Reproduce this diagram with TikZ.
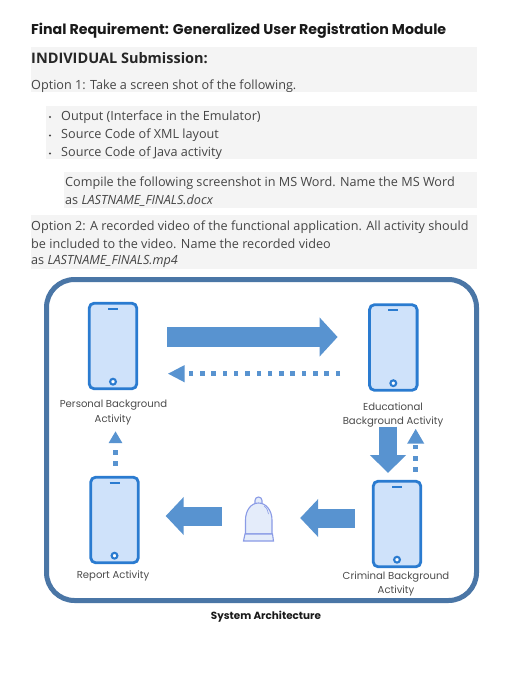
\documentclass[tikz,border=0pt]{standalone}
\usepackage{fontspec}
\setmainfont{Open Sans}
\newfontfamily\gothic{Poppins}
\usetikzlibrary{arrows.meta}
\definecolor{panel}{HTML}{F4F4F4}
\definecolor{bodytext}{HTML}{454545}
\definecolor{framecol}{HTML}{4A76A6}
\definecolor{arrowcol}{HTML}{5893D0}
\definecolor{phoneline}{HTML}{2A7BD0}
\definecolor{phonefill}{HTML}{CFE2FA}
\definecolor{bellline}{HTML}{8A9BE6}
\definecolor{bellfill}{HTML}{E4ECFA}
\tikzset{
  panelbox/.style={fill=panel,draw=none},
  txt/.style={anchor=base west,inner sep=0pt,text=bodytext,font=\fontsize{12.65}{15}\selectfont},
  lab/.style={anchor=base,inner sep=0pt,text=black!70,font=\gothic\fontsize{10.1}{12}\selectfont},
  phone/.style={draw=phoneline,fill=phonefill,line width=2.8pt,rounded corners=5pt,minimum width=47.6pt,minimum height=85.6pt,inner sep=0pt},
  detail/.style={draw=phoneline,line width=2.1pt},
  block/.style={draw=arrowcol,line width=#1},
  dots/.style={draw=arrowcol,line width=4.6pt,dash pattern=on 4.5pt off 6.8pt},
  bellpart/.style={draw=bellline,fill=bellfill,line width=1.1pt},
}
\newcommand{\phonedetails}[1]{%
  \draw[detail] ([xshift=-5pt,yshift=-7pt]#1.north) -- ([xshift=5pt,yshift=-7pt]#1.north);
  \draw[detail,fill=white] ([yshift=8.5pt]#1.south) circle (2.9pt);
}
\begin{document}
\begin{tikzpicture}[x=1pt,y=-1pt]
\useasboundingbox[fill=white] (0,0) rectangle (520,700);
% panels
\fill[panelbox] (31,47) rectangle (477,92.5);
\fill[panelbox] (46,106) rectangle (477,159);
\fill[panelbox] (64,172) rectangle (477,208);
\fill[panelbox] (31,215) rectangle (477,269);
% text
\node[txt,text=black!90,font=\gothic\bfseries\fontsize{14.2}{16}\selectfont] (title) at (31,35) {Final Requirement: Generalized User Registration Module};
\node[txt,text=black!85,font=\bfseries\fontsize{14.5}{16}\selectfont] (indiv) at (31,64) {INDIVIDUAL Submission:};
\node[txt] (opt1) at (31,90) {Option 1: Take a screen shot of the following.};
\node[txt] (b1) at (61,121) {Output (Interface in the Emulator)};
\node[txt] (b2) at (61,139) {Source Code of XML layout};
\node[txt] (b3) at (61,157) {Source Code of Java activity};
\fill[bodytext] (50,117) circle (1.2pt) (50,135.5) circle (1.2pt) (50,153.5) circle (1.2pt);
\node[txt] (c1) at (65,187) {Compile the following screenshot in MS Word. Name the MS Word};
\node[txt] (c2) at (65,205) {as \textit{LASTNAME\_FINALS.docx}};
\node[txt] (o1) at (31,231) {Option 2: A recorded video of the functional application. All activity should};
\node[txt] (o2) at (31,248) {be included to the video. Name the recorded video};
\node[txt] (o3) at (31,265) {as \textit{LASTNAME\_FINALS.mp4}};
% frame
\draw[framecol,line width=5pt,rounded corners=28pt] (46.5,279.5) rectangle (476.5,600.5);
% phones
\node[phone] (p1) at (113,346) {};
\node[phone] (p2) at (393.3,347.5) {};
\node[phone] (p4) at (114.5,520) {};
\node[phone] (p5) at (397,524) {};
\phonedetails{p1}\phonedetails{p2}\phonedetails{p4}\phonedetails{p5}
% labels
\node[lab] (l1a) at (113.5,407) {Personal Background};
\node[lab] (l1b) at (113,422) {Activity};
\node[lab] (l2a) at (393,410) {Educational};
\node[lab] (l2b) at (393,424) {Background Activity};
\node[lab] (l4) at (113,578) {Report Activity};
\node[lab] (l5a) at (396,579) {Criminal Background};
\node[lab] (l5b) at (396,593) {Activity};
\node[lab,text=black!90,font=\gothic\bfseries\fontsize{10.4}{12}\selectfont] (cap) at (266,619) {System Architecture};
% bell
\node[inner sep=0pt,minimum width=31pt,minimum height=44pt] (bell) at (258.5,519) {};
\draw[bellpart] (255,504) -- (255,500.5) arc[start angle=180,end angle=360,radius=3.5] -- (262,504) -- cycle;
\draw[bellpart] (245.5,534) -- (245.5,520) .. controls (245.5,511) and (250.5,503) .. (258.5,503) .. controls (266.5,503) and (272,511) .. (272,520) -- (272,534) -- cycle;
\draw[bellpart] (245,534) -- (272.5,534) -- (273.5,541) -- (243.5,541) -- cycle;
\draw[bellline,line width=.6pt] (264,506) .. controls (267,508) and (268,511) .. (268.5,514);
% block arrows
\draw[block=19.5pt,-{Triangle[length=18pt,width=38pt]},shorten <=29pt,shorten >=30.5pt] ([yshift=9pt]p1.east) -- ([yshift=10.5pt]p2.west);
\draw[dots,-{Triangle[length=17pt,width=16pt]},shorten <=28pt,shorten >=29.5pt] ([yshift=-26.2pt]p2.west) -- ([yshift=-27.7pt]p1.east);
\draw[dots,-{Triangle[length=12pt,width=13pt]},shorten <=10pt] ([xshift=1pt]p4.north) -- ([xshift=2.5pt,yshift=-41pt]p1.south);
\draw[block=17.5pt,-{Triangle[length=18pt,width=35pt]},shorten <=35pt,shorten >=6.8pt] ([xshift=-5.3pt]p2.south) -- ([xshift=-9pt]p5.north);
\draw[dots,-{Triangle[length=15pt,width=16pt]},shorten <=8pt,shorten >=37pt] ([xshift=18.7pt]p5.north) -- ([xshift=22.4pt]p2.south);
\draw[block=19pt,-{Triangle[length=18pt,width=37pt]},shorten <=21pt,shorten >=26pt] ([yshift=3pt]bell.west) -- ([yshift=4pt]p4.east);
\draw[block=19pt,-{Triangle[length=18pt,width=37pt]},shorten <=17pt,shorten >=26pt] ([yshift=6pt]p5.west) -- ([yshift=1pt]bell.east);
\end{tikzpicture}
\end{document}
